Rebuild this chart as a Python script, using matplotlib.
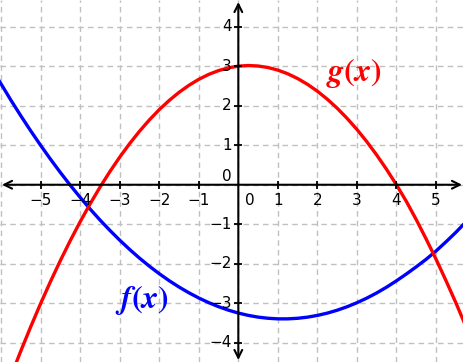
import matplotlib
matplotlib.use("Agg")
import matplotlib.pyplot as plt

# ---- data ----
x_ticks = [-5, -4, -3, -2, -1, 1, 2, 3, 4, 5]
x_tick_labels = ["\u22125", "\u22124", "\u22123", "\u22122", "\u22121", "1", "2", "3", "4", "5"]
y_ticks = [-4, -3, -2, -1, 1, 2, 3, 4]
y_tick_labels = ["\u22124", "\u22123", "\u22122", "\u22121", "1", "2", "3", "4"]
grid_x = [-6, -5, -4, -3, -2, -1, 0, 1, 2, 3, 4, 5]
grid_y = [-4, -3, -2, -1, 0, 1, 2, 3, 4]

f_x = [-6.1, -5.75, -5.5, -5.25, -5.0, -4.75, -4.5, -4.25, -4.0, -3.75, -3.5, -3.25,
       -3.0, -2.75, -2.5, -2.25, -2.0, -1.75, -1.5, -1.25, -1.0, -0.75, -0.5, -0.25,
       0.0, 0.25, 0.5, 0.75, 1.0, 1.25, 1.5, 1.75, 2.0, 2.25, 2.5, 2.75,
       3.0, 3.25, 3.5, 3.75, 4.0, 4.25, 4.5, 4.75, 5.0, 5.25, 5.5, 5.75]
f_y = [2.714, 2.136, 1.741, 1.361, 0.995, 0.644, 0.307, -0.015, -0.322, -0.615, -0.893, -1.156,
       -1.405, -1.639, -1.859, -2.064, -2.254, -2.430, -2.591, -2.737, -2.869, -2.986, -3.089, -3.177,
       -3.250, -3.309, -3.353, -3.382, -3.397, -3.397, -3.383, -3.354, -3.310, -3.252, -3.179, -3.091,
       -2.989, -2.872, -2.741, -2.595, -2.434, -2.262, -2.080, -1.890, -1.680, -1.450, -1.210, -0.950]

g_x = [-5.75, -5.5, -5.25, -5.0, -4.75, -4.5, -4.25, -4.0, -3.75, -3.5, -3.25,
       -3.0, -2.75, -2.5, -2.25, -2.0, -1.75, -1.5, -1.25, -1.0, -0.75, -0.5, -0.25,
       0.0, 0.25, 0.5, 0.75, 1.0, 1.25, 1.5, 1.75, 2.0, 2.25, 2.5, 2.75,
       3.0, 3.25, 3.5, 3.75, 4.0, 4.25, 4.5, 4.75, 5.0, 5.25, 5.5, 5.75]
g_y = [-4.840, -4.202, -3.590, -3.004, -2.446, -1.915, -1.411, -0.934, -0.485, -0.062, 0.333,
       0.701, 1.042, 1.356, 1.643, 1.903, 2.135, 2.341, 2.519, 2.671, 2.795, 2.892, 2.962,
       3.004, 3.020, 3.008, 2.970, 2.904, 2.811, 2.691, 2.544, 2.370, 2.168, 1.940, 1.684,
       1.402, 1.092, 0.755, 0.391, 0.0, -0.420, -0.880, -1.370, -1.880, -2.420, -2.980, -3.570]

x_min, x_max = -6.03, 5.71
y_min, y_max = -4.49, 4.68

plt.rcParams['mathtext.fontset'] = 'stix'

fig = plt.figure(figsize=(4.64, 3.62), dpi=100)
ax = fig.add_axes([0, 0, 1, 1])
ax.set_xlim(x_min, x_max)
ax.set_ylim(y_min, y_max)
ax.set_axis_off()

grid_kw = dict(color="#c0c0c0", lw=1.0, ls=(0, (4, 3)), zorder=0)
for gx in grid_x:
    ax.axvline(gx, **grid_kw)
for gy in grid_y:
    ax.axhline(gy, **grid_kw)

# axes with arrows
arrow_kw = dict(arrowstyle="<->", color="black", lw=1.5, mutation_scale=14,
                shrinkA=0, shrinkB=0)
ax.annotate("", xy=(x_max - 0.05, 0), xytext=(x_min + 0.05, 0), arrowprops=arrow_kw, zorder=3)
ax.annotate("", xy=(0, y_max - 0.05), xytext=(0, y_min + 0.05), arrowprops=arrow_kw, zorder=3)

ax.plot(x_ticks, [0] * len(x_ticks), ls="none", marker="|", ms=6, mew=1.3, color="black", zorder=3)
ax.plot([0] * len(y_ticks), y_ticks, ls="none", marker="_", ms=6, mew=1.3, color="black", zorder=3)

fs = 11
for xv, lab in zip(x_ticks, x_tick_labels):
    ax.text(xv, -0.40, lab, ha="center", va="center", fontsize=fs, color="black")
ax.text(0.30, -0.40, "0", ha="center", va="center", fontsize=fs, color="black")
for yv, lab in zip(y_ticks, y_tick_labels):
    ax.text(-0.16, yv, lab, ha="right", va="center", fontsize=fs, color="black")
ax.text(-0.16, 0.22, "0", ha="right", va="center", fontsize=fs, color="black")

# curves
ax.plot(f_x, f_y, color="#0000ff", lw=2.4, zorder=2, solid_joinstyle="round")
ax.plot(g_x, g_y, color="#ff0000", lw=2.4, zorder=2, solid_joinstyle="round")

ax.text(2.93, 2.83, r"$\mathbfit{g}\mathbf{(}\mathbfit{x}\mathbf{)}$", color="#ff0000",
        fontsize=23, ha="center", va="center")
ax.text(-2.45, -2.92, r"$\mathbfit{f}\mathbf{(}\mathbfit{x}\mathbf{)}$", color="#0000ff",
        fontsize=23, ha="center", va="center")

fig.savefig("out.png", dpi=100)
